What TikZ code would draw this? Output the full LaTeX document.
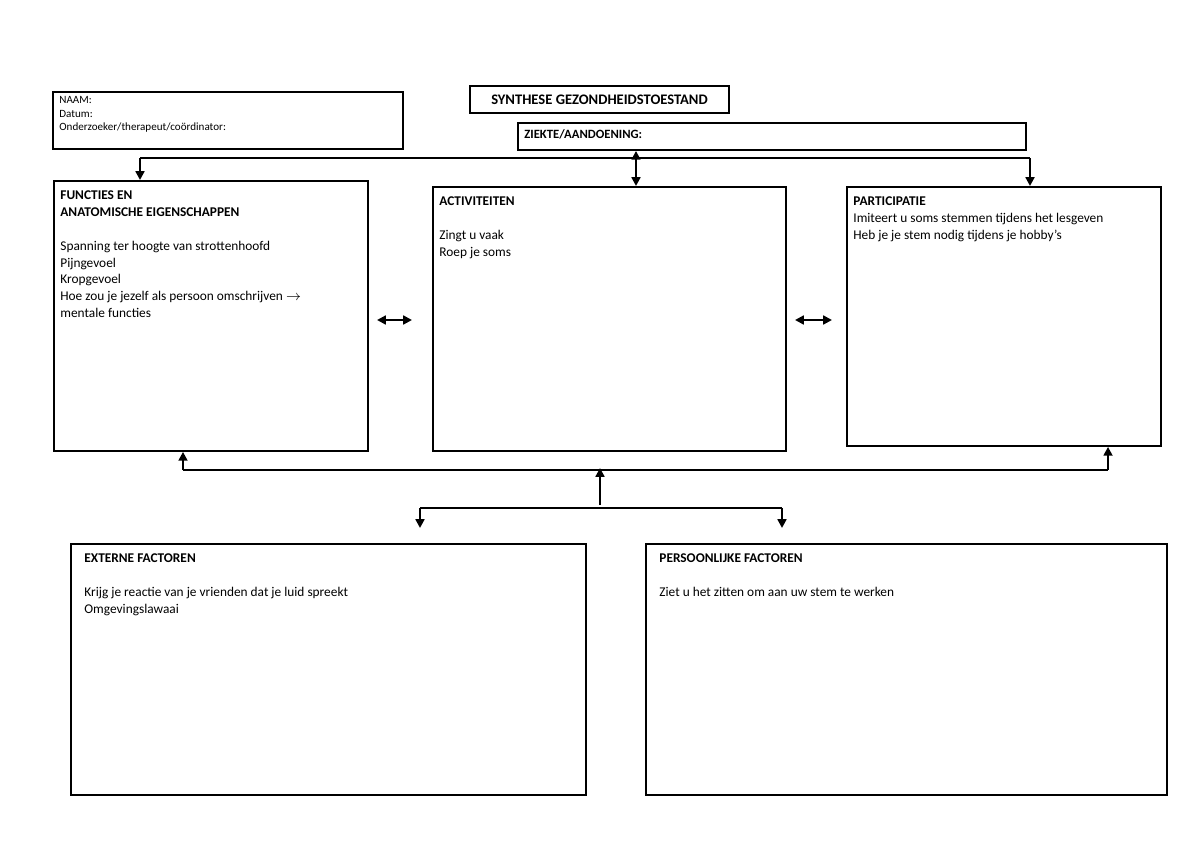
\documentclass[tikz,border=0pt]{standalone}
\usepackage{fontspec}
\setmainfont{Carlito}
\usetikzlibrary{arrows.meta}
\tikzset{
	vak/.style={draw,line width=1.1pt,anchor=north west,inner sep=0pt},
	tekst/.style={anchor=north west,align=left,inner xsep=4pt,inner ysep=6pt,font=\fontsize{7.6}{9.6}\selectfont},
	pijl/.style={line width=1.6pt,-{Triangle[length=5pt,width=5pt]}},
	dpijl/.style={line width=1.6pt,{Triangle[length=5pt,width=5pt]}-{Triangle[length=5pt,width=5pt]}}
}
\begin{document}
\begin{tikzpicture}[x=0.02cm,y=-0.02cm]
				\useasboundingbox (0,0) rectangle (1200,849);
				% kaders
				\node[vak,minimum width=7cm,minimum height=1.14cm] (naam) at (52,91) {};
				\node[vak,anchor=center,minimum width=5.18cm,minimum height=0.54cm,font=\bfseries\fontsize{8.3}{10}\selectfont] (titel) at (599.5,99.5) {SYNTHESE GEZONDHEIDSTOESTAND};
				\node[vak,minimum width=10.16cm,minimum height=0.54cm] (ziekte) at (517,122) {};
				\node[vak,minimum width=6.28cm,minimum height=5.4cm] (functies) at (53,180) {};
				\node[vak,minimum width=7.06cm,minimum height=5.28cm] (activiteiten) at (432,186) {};
				\node[vak,minimum width=6.28cm,minimum height=5.18cm] (participatie) at (846,186) {};
				\node[vak,minimum width=10.3cm,minimum height=5.02cm] (extern) at (70,543) {};
				\node[vak,minimum width=10.42cm,minimum height=5.02cm] (persoonlijk) at (645,543) {};
				% teksten
				\node[tekst,font=\fontsize{6.3}{7.6}\selectfont,inner ysep=3pt] (naamtekst) at (naam.north west) {NAAM:\\Datum:\\Onderzoeker/therapeut/coördinator:};
				\node[tekst,font=\bfseries\fontsize{7.2}{9}\selectfont,inner ysep=4pt] (ziektetekst) at (ziekte.north west) {ZIEKTE/AANDOENING:};
				\node[tekst] (functiestekst) at (functies.north west) {\textbf{FUNCTIES EN}\\\textbf{ANATOMISCHE EIGENSCHAPPEN}\\[9.6pt]Spanning ter hoogte van strottenhoofd\\Pijngevoel\\Kropgevoel\\Hoe zou je jezelf als persoon omschrijven $\rightarrow$\\mentale functies};
				\node[tekst] (activiteitentekst) at (activiteiten.north west) {\textbf{ACTIVITEITEN}\\[9.6pt]Zingt u vaak\\Roep je soms};
				\node[tekst] (participatietekst) at (participatie.north west) {\textbf{PARTICIPATIE}\\Imiteert u soms stemmen tijdens het lesgeven\\Heb je je stem nodig tijdens je hobby's};
				\node[tekst,inner xsep=8pt] (externtekst) at (extern.north west) {\textbf{EXTERNE FACTOREN}\\[9.6pt]Krijg je reactie van je vrienden dat je luid spreekt\\Omgevingslawaai};
				\node[tekst,inner xsep=8pt] (persoonlijktekst) at (persoonlijk.north west) {\textbf{PERSOONLIJKE FACTOREN}\\[9.6pt]Ziet u het zitten om aan uw stem te werken};
				
				\coordinate (t1) at (140,158);
				\coordinate (t2) at (1030,158);
				\coordinate (b1) at (183,470);
				\coordinate (b2) at (1108,470);
				\coordinate (b3) at (600,505);
				\coordinate (o1) at (420,508);
				\coordinate (o2) at (782,508);
				\draw[line width=1.6pt] (t1) -- (t2);
				\draw[pijl] (t1) -- (functies.north west -| t1);
				\draw[pijl] (t2) -- (participatie.north west -| t2);
				\draw[dpijl] (ziekte.south -| 636,0) -- (activiteiten.north -| 636,0);
				\draw[line width=1.6pt] (b1) -- (b2);
				\draw[pijl] (b1) -- (functies.south -| b1);
				\draw[pijl] (b2) -- (participatie.south -| b2);
				\draw[pijl] (b3) -- (600,468);
				\draw[line width=1.6pt] (o1) -- (o2);
				\draw[pijl] (o1) -- (420,528);
				\draw[pijl] (o2) -- (782,528);
				\draw[dpijl] (377,320) -- (412,320);
				\draw[dpijl] (795,320) -- (832,320);
			\end{tikzpicture}
\end{document}
